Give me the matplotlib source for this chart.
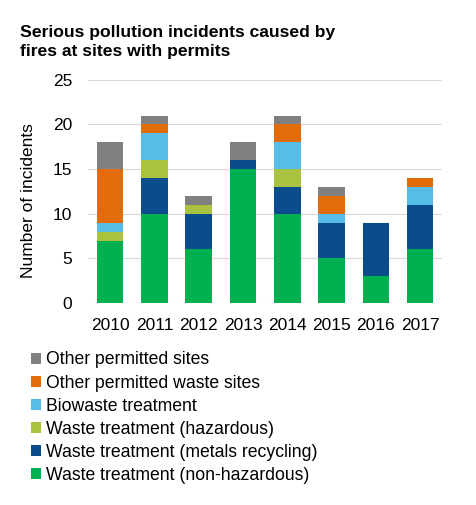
import matplotlib.pyplot as plt
import numpy as np
from matplotlib.patches import Patch

plt.rcParams['font.family'] = ['Liberation Sans', 'DejaVu Sans']

years = ['2010', '2011', '2012', '2013', '2014', '2015', '2016', '2017']

# stacked from bottom to top
non_hazardous = [7, 10, 6, 15, 10, 5, 3, 6]
metals = [0, 4, 4, 1, 3, 4, 6, 5]
hazardous = [1, 2, 1, 0, 2, 0, 0, 0]
biowaste = [1, 3, 0, 0, 3, 1, 0, 2]
other_waste = [6, 1, 0, 0, 2, 2, 0, 1]
other_sites = [3, 1, 1, 2, 1, 1, 0, 0]

series = [
    ('Waste treatment (non-hazardous)', non_hazardous, '#00b050'),
    ('Waste treatment (metals recycling)', metals, '#0b4d8c'),
    ('Waste treatment (hazardous)', hazardous, '#a9c23f'),
    ('Biowaste treatment', biowaste, '#56bde9'),
    ('Other permitted waste sites', other_waste, '#e36c0a'),
    ('Other permitted sites', other_sites, '#808080'),
]

fig = plt.figure(figsize=(4.76, 5.05), dpi=100)
ax = fig.add_axes([0.185, 0.4, 0.744, 0.442])

x = np.arange(len(years))
bottom = np.zeros(len(years))
for name, vals, col in series:
    ax.bar(x, vals, 0.6, bottom=bottom, color=col, label=name, zorder=3)
    bottom += np.array(vals)

ax.set_ylim(0, 25)
ax.set_yticks(range(0, 26, 5))
ax.set_xlim(-0.5, len(years) - 0.5)
ax.set_xticks(x)
ax.set_xticklabels(years)
ax.grid(axis='y', color='#d9d9d9', linewidth=0.8, zorder=0)
for s in ax.spines.values():
    s.set_visible(False)
ax.tick_params(length=0, labelsize=12.5, colors='#000000')
ax.tick_params(axis='y', pad=11.5)
ax.tick_params(axis='x', pad=11)
ax.set_ylabel('Number of incidents', fontsize=12.5)
ax.yaxis.set_label_coords(-0.148, 0.46)

fig.text(0.042, 0.917, 'Serious pollution incidents caused by\nfires at sites with permits',
         fontsize=12.6, fontweight='bold', va='center', ha='left', linespacing=1.3)

handles = [Patch(facecolor=col, label=name) for name, vals, col in series[::-1]]
fig.legend(handles=handles, loc='upper left', bbox_to_anchor=(0.066, 0.304),
           frameon=False, fontsize=12.7, handlelength=0.55, handleheight=0.55,
           handletextpad=0.3, labelspacing=0.345, borderpad=0, borderaxespad=0)

fig.savefig('out.png', dpi=100)
